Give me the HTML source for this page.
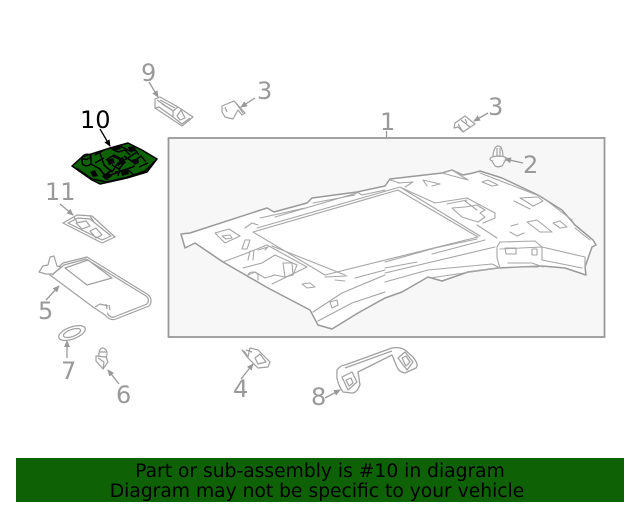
<!DOCTYPE html>
<html><head><meta charset="utf-8"><style>
html,body{margin:0;padding:0;background:#fff}
svg{display:block}
text{font-family:"DejaVu Sans",sans-serif}
</style></head><body>
<svg width="640" height="512" viewBox="0 0 640 512" xmlns="http://www.w3.org/2000/svg">
<defs>
<marker id="a" markerWidth="8" markerHeight="8" refX="6" refY="3" orient="auto" markerUnits="userSpaceOnUse"><path d="M0 0L7 3L0 6Z" fill="#999"/></marker>
<marker id="b" markerWidth="8" markerHeight="8" refX="6" refY="3" orient="auto" markerUnits="userSpaceOnUse"><path d="M0 0L7 3L0 6Z" fill="#000"/></marker>
</defs>
<rect x="168.500" y="138" width="436" height="199" fill="#f7f7f7" stroke="#999" stroke-width="1.800"/>
<line x1="386.500" y1="131" x2="386.500" y2="138" stroke="#999" stroke-width="1.300"/>

<!-- headliner -->
<g fill="none" stroke="#a6a6a6" stroke-width="1.100" stroke-linejoin="round" stroke-linecap="round">
<path fill="#fff" stroke="#999" stroke-width="1.500" d="M181 234L190 233L267 208L274 212L307 203L312 198L357 192L385 186L390 179L442 173L452 170L463 175L473 173L480 171L502 178L538 195L562 210L575 225L593 240L596 245L592 247L585 267L586 275L565 268L542 266L498 268L468 272L442 281L428 277L402 292L385 298L358 313L332 329L318 325L310 310L268 288L223 262L195 243L185 248Z"/>
<path d="M253 232L398 190L478 237L325 275Z"/>
<path d="M257 228L400 187L480 236M272 246L345 275M245 228L252 223L258 225M260 218L305 208M275 217L357 193M313 203L355 195M357 192L362 195L385 190M390 180L400 183"/>
<path d="M325 277L347 276M335 280L345 281M355 278L385 270M385 262L435 248L477 239M432 254L485 240M385 273L495 247M385 268L417 262M385 282L428 270L492 264L500 268M313 312L342 293L385 275M318 321L352 303L385 292M430 278L498 268"/>
<path d="M330 302L337 300L338 305L332 308ZM302 284L310 283L315 287L307 288Z"/>
<!-- pocket left -->
<path d="M223 262L247 253L267 245L307 267L272 284"/>
<path d="M243 268L262 263L275 255L297 265L293 275L285 277L275 275L265 278L255 272L248 275"/>
<path d="M283 263L292 263L293 275L285 277ZM248 275C249 271 256 271 258 275L258 280"/>
<path d="M248 260L250 251M253 260L254 250M258 250L268 247L265 250"/>
<path d="M215 233L229 229L240 236L225 243ZM222 236L230 235L232 238L226 239Z"/>
<path d="M245 240L250 240L247 249L242 249Z"/>
<!-- right details -->
<path d="M442 173L452 170L468 180L442 173M398 183L413 182L405 187M423 180L427 186M423 180L440 184M432 186L440 184"/>
<path d="M482 182L488 180L498 185L492 186Z"/>
<path d="M402 188L435 203L467 198L495 213L495 218L483 223M477 225L497 238"/>
<path d="M452 208L465 207L477 205L485 210L480 213L485 217L478 222L465 218L462 217L452 208ZM447 204L467 200M465 201L477 210"/>
<path d="M514 201L530 209M520 198L538 197L543 201L533 206L527 202Z"/>
<path d="M511 226L518 224M510 232L517 236L524 233"/>
<path d="M527 222L537 220L552 232L540 232ZM553 223L560 221L567 227L560 228Z"/>
<path d="M480 173L542 197L572 220M575 228L590 240"/>
<path d="M497 247L500 242L535 241L542 247L585 257M497 247L497 258L500 268M500 249L542 247L542 260L582 268M505 248L516 248L516 254L506 254ZM532 249L537 249L537 255L532 255ZM508 263L532 263L543 267M512 267L538 267M585 257L585 267"/>
</g>

<!-- small parts -->
<g fill="#fff" stroke="#a0a0a0" stroke-width="1.200" stroke-linejoin="round">
<!-- 2 -->
<path d="M493 158C493 149 496 146 498 146C501 146 503 149 503 158Z"/>
<ellipse cx="498.500" cy="159" rx="8.500" ry="3"/>
<path d="M492 161L495 166L498 167L502 166L505 161"/>
<path fill="none" d="M497 148V157M500 148V157"/>
<!-- 3 left -->
<path d="M222 106L234 101L245 113L242 115L238 110L233 119L225 117L222 112Z"/>
<path fill="none" d="M225 107L227 112M236 103L243 113"/>
<!-- 3 right -->
<path d="M455 123L465 116L475 124L463 132L458 127L454 128Z"/>
<path fill="none" d="M458 124L463 132M461 120L470 127M465 119L467 123"/>
<!-- 9 -->
<path d="M155 99L160 97L178 107L193 117L182 126L155 108Z"/>
<path fill="none" d="M157 100L173 111L173 117L159 107L155 108M173 111L178 107M173 117L182 124L190 118M177 116L181 110L185 118L180 120Z"/>
<path fill="none" d="M160 100L175 108M162 104L172 110"/>
<!-- 11 -->
<path d="M63 223L77 215L92 216L115 237L102 243Z"/>
<path fill="none" d="M68 223L78 218L90 219L111 236L102 240ZM76 223L86 221L90 226L82 229ZM90 231L96 228L102 235L96 238Z"/>
<path fill="none" d="M74 217L77 222M90 216L94 222"/>
<!-- 5 -->
<path d="M50 275L63 263L87 257L147 294C152 297 152 303 149 306L116 319C111 321 108 318 105 315L93 307Z"/>
<path fill="none" d="M52 275L64 265L86 259L146 296C149 298 149 302 147 304L114 317C111 318 109 316 107 313M65 268L88 260L112 278L87 285Z"/>
<path d="M39 272L43 266L48 265L50 257L54 256L57 266L61 267L53 274L46 274Z"/>
<path fill="none" d="M95 307L100 304L108 306M106 304L107 309M109 305L110 310"/>
<!-- 7 -->
<ellipse cx="72" cy="333" rx="14" ry="6" transform="rotate(-20 72 333)"/>
<ellipse cx="72" cy="333" rx="9" ry="3.500" transform="rotate(-20 72 333)"/>
<!-- 6 -->
<path d="M99 358C98 349 102 346 105 349C108 351 107 356 106 358Z"/>
<path d="M96 356L106 357L108 362L103 369L96 361Z"/>
<path fill="none" d="M98 358L104 362L103 369M99 352H106"/>
<!-- 4 -->
<path d="M242 350L245 352L248 357L250 348L258 350L270 362L268 367L258 368L248 358Z"/>
<path fill="none" d="M255 358L260 354L266 362L258 364ZM246 350L252 352"/>
<!-- 8 -->
<path d="M337 370C340 366 343 365 345 365L392 348C398 347 402 348 405 350L413 357C417 362 418 366 416 368L405 373C400 372 398 370 397 367L392 355L358 372L360 385C358 390 355 393 352 393L343 392C340 388 338 383 337 378Z" stroke-width="1.300"/>
<path fill="none" d="M342 377L352 372L357 382L348 390ZM346 380L351 378L353 383L349 386ZM398 358L405 352L413 362L407 370ZM402 358L406 356L410 362L406 366ZM345 368L392 351"/>
</g>

<!-- 10 -->
<g stroke="#000" stroke-linejoin="round" stroke-width="1.500">
<path fill="#0f6106" d="M72 166L82 157L110 148L128 143L142 150L157 159L147 172L127 178L100 184L92 180Z"/>
<g fill="none">
<path d="M82 158C82 154 90 153 91 156V164C88 167 82 166 82 162ZM82 158C84 160 89 160 91 156M91 164L100 169L108 180M76 168L92 179L107 182L128 177L145 171L155 161"/>
<path d="M100 153L104 165L112 172L118 163L128 158L137 152M110 148L118 152L125 150L130 155M112 156L122 160L118 166M106 160L114 155L120 158M100 170L105 175L112 170M115 172L125 170L135 166M128 170L135 176M124 156L133 162L141 156L146 162M112 165L119 169L124 163M95 155L104 150M134 148L139 155M118 176L120 168M139 167L148 163M95 163L104 158M108 176L130 168M120 146L132 152"/>
</g>
<path fill="#000" stroke="none" d="M102 176L108 172L112 176L106 180ZM118 159L123 157L126 163L121 165ZM128 147L134 146L136 151L130 152ZM90 172L95 170L98 176L93 177ZM107 160L113 158L115 163L109 165ZM132 160L138 158L139 163L134 165ZM112 147L120 145L121 149L114 151ZM121 172L128 170L129 174L122 176Z"/>
</g>

<!-- leaders -->
<g stroke="#999" stroke-width="1.300" fill="none" marker-end="url(#a)">
<line x1="149" y1="82" x2="158" y2="97"/>
<line x1="255" y1="98" x2="241" y2="107"/>
<line x1="488" y1="113" x2="474" y2="121"/>
<line x1="523" y1="163" x2="505" y2="159"/>
<line x1="60" y1="204" x2="73" y2="215"/>
<line x1="46" y1="300" x2="59" y2="286"/>
<line x1="67" y1="358" x2="67" y2="341"/>
<line x1="119" y1="384" x2="108" y2="370"/>
<line x1="241" y1="379" x2="253" y2="364"/>
<line x1="325" y1="398" x2="340" y2="390"/>
</g>
<line x1="100" y1="129" x2="110" y2="146" stroke="#000" stroke-width="1.300" marker-end="url(#b)"/>

<!-- labels -->
<g font-size="24" fill="#999">
<text x="141" y="81">9</text>
<text x="257" y="99">3</text>
<text x="380" y="130">1</text>
<text x="488" y="115">3</text>
<text x="523" y="173">2</text>
<text x="45" y="200">11</text>
<text x="38" y="319">5</text>
<text x="61" y="379">7</text>
<text x="116" y="403">6</text>
<text x="233" y="397">4</text>
<text x="311" y="405">8</text>
</g>
<text x="80" y="128" font-size="24" fill="#000">10</text>

<rect x="16" y="458" width="608" height="44" fill="#0f6106"/>
<g font-size="18.700" fill="#000" text-anchor="middle">
<text x="320" y="477">Part or sub-assembly is #10 in diagram</text>
<text x="317" y="497">Diagram may not be specific to your vehicle</text>
</g>
</svg>
</body></html>
